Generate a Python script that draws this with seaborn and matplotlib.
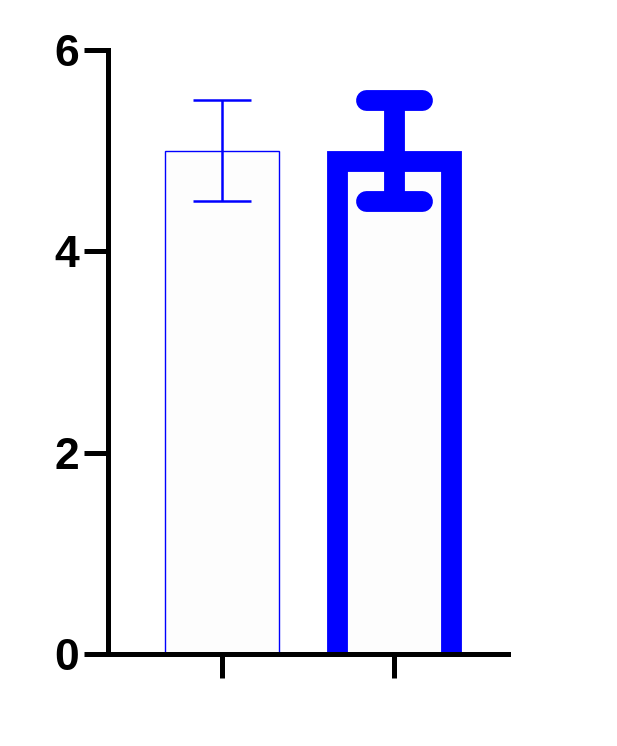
import numpy as np
import pandas as pd
import matplotlib
matplotlib.use('Agg')
import matplotlib.pyplot as plt
import matplotlib.transforms as mtransforms
from matplotlib.markers import MarkerStyle
import seaborn as sns

# data
groups = ['Group 1', 'Group 2']
means = [5.0, 5.0]
errors = [0.5, 0.5]
y_ticks = [0, 2, 4, 6]

# styles per bar
edge_widths = [1.0, 15]       # pt
err_widths = [1.8, 15]        # pt
cap_sizes = [21, 20.5]        # pt
blue = '#0000ff'

sns.set_style('white')
plt.rcParams['font.family'] = ['Liberation Sans', 'DejaVu Sans']

df = pd.DataFrame({'group': groups, 'mean': means, 'err': errors})

fig = plt.figure(figsize=(6.17, 7.46), dpi=100)
ax = fig.add_axes([0.175, 0.1233, 0.648, 0.8097])

sns.barplot(data=df, x='group', y='mean', ax=ax, width=0.66, errorbar=None,
            color='#fdfdfd', edgecolor=blue, saturation=1)

for patch, lw in zip(ax.patches, edge_widths):
    patch.set_facecolor('#fdfdfd')
    patch.set_edgecolor(blue)
    if lw < 5:
        patch.set_linewidth(lw)
    else:
        # thick border: drawn inside the bar top, open at the bottom
        patch.set_linewidth(0)
        x0 = patch.get_x()
        x1 = x0 + patch.get_width()
        h = patch.get_height()
        tr = mtransforms.offset_copy(ax.transData, fig=fig, y=-lw / 2, units='points')
        ax.plot([x0, x0, x1, x1], [0, h, h, 0], color=blue, lw=lw,
                solid_joinstyle='miter', transform=tr, zorder=3)

for i, (m, e) in enumerate(zip(df['mean'], df['err'])):
    cont = ax.errorbar(i, m, yerr=e, fmt='none', ecolor=blue,
                       elinewidth=err_widths[i], capsize=cap_sizes[i],
                       capthick=err_widths[i], zorder=5)
    if i == 1:
        for cl in cont.lines[1]:
            cl.set_marker(MarkerStyle('_', capstyle='round'))

ax.set_xlim(-0.663, 1.663)
ax.set_ylim(0, 6)
ax.set_yticks(y_ticks)
ax.set_yticklabels([str(t) for t in y_ticks], fontsize=32, fontweight='bold')
ax.set_xticks(range(len(groups)))
ax.set_xticklabels([])
ax.set_xlabel('')
ax.set_ylabel('')

sns.despine(ax=ax)
for side in ['left', 'bottom']:
    ax.spines[side].set_linewidth(3.6)
    ax.spines[side].set_color('black')
    ax.spines[side].set_capstyle('projecting')
    ax.spines[side].set_zorder(6)
ax.tick_params(axis='both', direction='out', length=17, width=3.6,
               color='black', labelcolor='black', pad=4, left=True, bottom=True)

fig.savefig('out.png', dpi=100, facecolor='white')
